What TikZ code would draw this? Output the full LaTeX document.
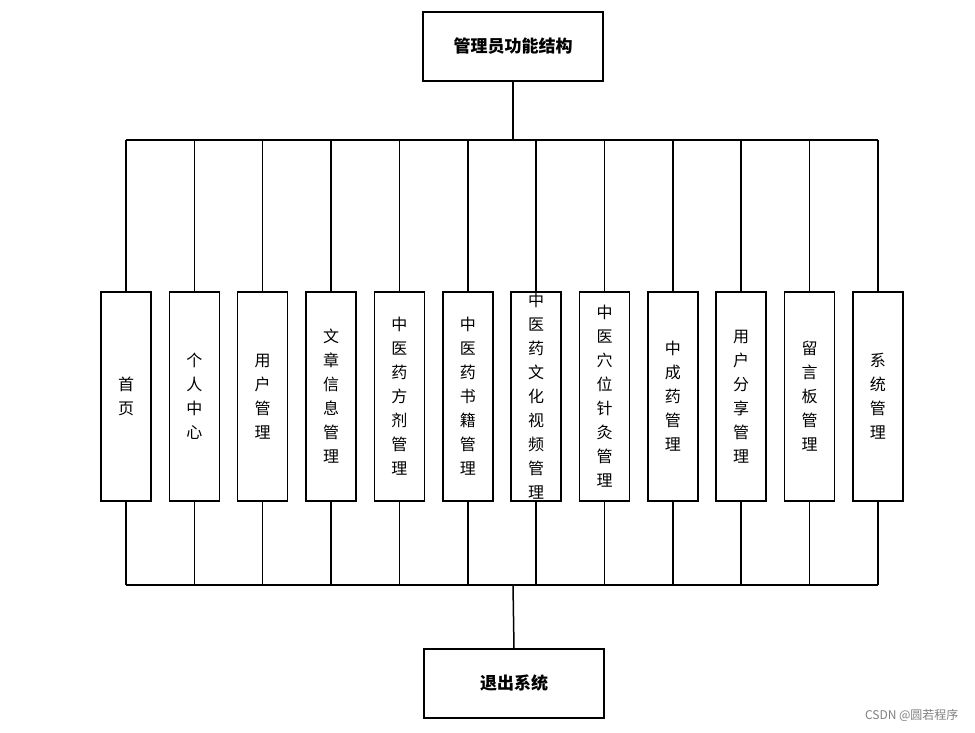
\documentclass[tikz,border=0pt]{standalone}
\usepackage{fontspec}
\setmainfont{Noto Sans CJK SC}
\usetikzlibrary{positioning}
\tikzset{font=\fontsize{16}{24}\selectfont}
\tikzstyle{headbox}=[draw,line width=1.5pt,minimum width=180pt,minimum height=69pt,font=\fontsize{17}{20}\selectfont\bfseries]
\tikzstyle{itembox}=[draw,line width=1.5pt,minimum width=50pt,minimum height=209pt,align=center,inner sep=0pt,fill=white]
\tikzstyle{wire}=[line width=1.5pt]

\begin{document}
\begin{tikzpicture}[x=1pt,y=-1pt]
	\useasboundingbox (0,0) rectangle (975,733);
	\node [style=headbox] (top) at (513, 46.5) {管理员功能结构};
	\node [style=headbox] (bot) at (514, 683.5) {退出系统};
	\coordinate (tj) at (513, 140);
	\coordinate (bj) at (513, 585);
	\draw[style=wire] (top.south) to (tj);
	\draw[style=wire] (bj) to (bot.north);
	\foreach \i/\t in {0/首\\页, 1/个\\人\\中\\心, 2/用\\户\\管\\理, 3/文\\章\\信\\息\\管\\理,
		4/中\\医\\药\\方\\剂\\管\\理, 5/中\\医\\药\\书\\籍\\管\\理, 6/中\\医\\药\\文\\化\\视\\频\\管\\理,
		7/中\\医\\穴\\位\\针\\灸\\管\\理, 8/中\\成\\药\\管\\理, 9/用\\户\\分\\享\\管\\理,
		10/留\\言\\板\\管\\理, 11/系\\统\\管\\理} {
		\node [style=itembox] (m\i) at (126+68.36*\i, 396.5) {\t};
		\draw[style=wire] (m\i.north) to (126+68.36*\i, 140);
		\draw[style=wire] (m\i.south) to (126+68.36*\i, 585);
	}
	\draw[style=wire] (m0.north |- tj) to (m11.north |- tj);
	\draw[style=wire] (m0.south |- bj) to (m11.south |- bj);
	\node [text=gray, font=\fontsize{12}{14}\selectfont, anchor=east] (mark) at (962, 715) {CSDN @圆若程序};
\end{tikzpicture}
\end{document}
